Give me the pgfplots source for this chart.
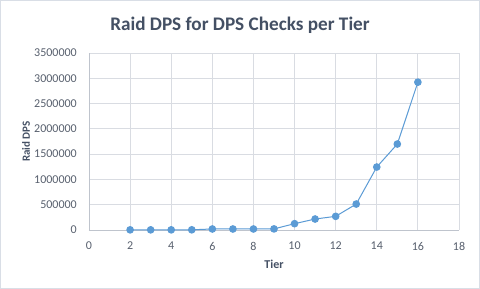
\documentclass[border=0pt]{standalone}
\usepackage{fontspec}
\setmainfont{Carlito}
\usepackage{pgfplots}
\pgfplotsset{compat=1.18}
\definecolor{ln}{RGB}{91,155,213}
\definecolor{gridc}{RGB}{217,220,226}
\definecolor{axisc}{RGB}{191,196,205}
\definecolor{tickc}{RGB}{88,96,110}
\definecolor{titlec}{RGB}{68,80,100}
\definecolor{borderc}{RGB}{217,222,230}
\begin{document}
\begin{tikzpicture}[x=1pt,y=1pt]
\fill[white] (0,0) rectangle (480,289);
\draw[borderc, line width=1pt] (0.5,0.5) rectangle (479.5,288.5);
\node[font=\fontsize{19.2}{21}\selectfont\bfseries, text=titlec, anchor=center] at (240,264) {Raid DPS for DPS Checks per Tier};
\begin{axis}[
  at={(89pt,59pt)}, anchor=south west,
  scale only axis, width=370pt, height=177pt,
  xmin=0, xmax=18, ymin=0, ymax=3500000,
  xtick={0,2,...,18}, ytick={0,500000,...,3500000},
  scaled y ticks=false,
  /pgf/number format/assume math mode=true,
  yticklabel style={/pgf/number format/fixed, /pgf/number format/1000 sep={}, anchor=east, inner sep=0pt, xshift=-12pt},
  xticklabel style={anchor=center, yshift=-16pt},
  ticklabel style={font=\fontsize{12}{14}\selectfont, text=tickc},
  major tick length=0pt,
  grid=major,
  major grid style={gridc, line width=0.8pt},
  axis line style={axisc, line width=0.8pt},
  axis x line*=bottom, axis y line*=left,
  separate axis lines,
  every outer x axis line/.append style={-},
  every outer y axis line/.append style={-},
  xlabel={Tier}, ylabel={Raid DPS},
  xlabel style={at={(axis description cs:0.5,-0.192)}, anchor=center, font=\fontsize{12}{14}\selectfont\bfseries, text=titlec},
  ylabel style={at={(axis description cs:-0.170,0.5)}, anchor=center, rotate=0, font=\fontsize{11}{13}\selectfont\bfseries, text=titlec},
  clip=false,
]
\addplot[ln, line width=1pt, mark=*, mark size=3.3pt, mark options={fill=ln, draw=ln}] coordinates {
(2,3000) (3,3000) (4,3000) (5,4000) (6,20000) (7,20000) (8,20000) (9,22000)
(10,125000) (11,217000) (12,270000) (13,513000) (14,1245000) (15,1700000) (16,2923000)
};
\end{axis}
\end{tikzpicture}
\end{document}
